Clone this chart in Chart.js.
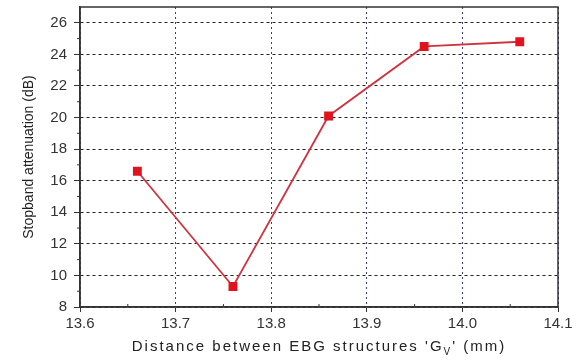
<!DOCTYPE html>
<html lang="en">
<head>
    <meta charset="UTF-8">
    <title>Stopband attenuation vs distance</title>
    <style>
        body { margin: 0; padding: 0; background-color: #fff; }
        .chart-container { width: 580px; height: 362px; }
    </style>
    <script src="https://cdn.jsdelivr.net/npm/chart.js"></script>
</head>
<body>

<div class="chart-container">
    <canvas id="myChart" width="580" height="362"></canvas>
</div>

<script>
    // Data
    const distances = [13.66, 13.76, 13.86, 13.96, 14.06];
    const attenuation = [16.6, 9.3, 20.1, 24.5, 24.8];
    const xTicks = [13.6, 13.7, 13.8, 13.9, 14.0, 14.1];
    const yTicks = [8, 10, 12, 14, 16, 18, 20, 22, 24, 26];
    const xMinorTicks = [13.65, 13.75, 13.85, 13.95, 14.05];
    const yMinorTicks = [9, 11, 13, 15, 17, 19, 21, 23, 25];

    const axisColor = '#333';
    const fontFamily = '"Liberation Sans", Arial, sans-serif';

    // Frame, minor ticks and the x title (with subscript)
    const extras = {
        id: 'extras',
        afterDraw(chart) {
            const c = chart.ctx;
            const a = chart.chartArea;
            const xs = chart.scales.x, ys = chart.scales.y;
            c.save();
            c.strokeStyle = axisColor;
            c.lineWidth = 1.5;
            c.strokeRect(a.left, a.top, a.right - a.left, a.bottom - a.top);

            c.lineWidth = 1;
            c.beginPath();
            yMinorTicks.forEach(v => {
                const y = ys.getPixelForValue(v);
                c.moveTo(a.left - 3, y);
                c.lineTo(a.left, y);
            });
            xMinorTicks.forEach(v => {
                const x = xs.getPixelForValue(v);
                c.moveTo(x, a.bottom);
                c.lineTo(x, a.bottom - 3);
            });
            c.stroke();

            // x axis title
            c.fillStyle = '#222';
            c.textBaseline = 'middle';
            c.letterSpacing = '2px';
            const big = '15px ' + fontFamily, small = '10px ' + fontFamily;
            const p1 = "Distance between EBG structures 'G", sub = 'V', p2 = "' (mm)";
            c.font = big;
            const w1 = c.measureText(p1).width, w3 = c.measureText(p2).width;
            c.font = small;
            const w2 = c.measureText(sub).width;
            const total = w1 + w2 + w3;
            let x = (a.left + a.right) / 2 - total / 2;
            const y = 347;
            c.textAlign = 'left';
            c.font = big;
            c.fillText(p1, x, y);
            x += w1;
            c.font = small;
            c.fillText(sub, x, y + 5);
            x += w2;
            c.font = big;
            c.fillText(p2, x, y);
            c.restore();
        }
    };

    const ctx = document.getElementById('myChart').getContext('2d');
    const myChart = new Chart(ctx, {
        type: 'line',
        data: {
            datasets: [{
                data: distances.map((d, i) => ({ x: d, y: attenuation[i] })),
                borderColor: '#cf3340',
                borderWidth: 1.8,
                pointStyle: 'rect',
                pointRadius: 5,
                pointBackgroundColor: '#e0141f',
                pointBorderColor: '#e0141f',
                tension: 0
            }]
        },
        options: {
            responsive: false,
            animation: false,
            layout: { padding: { top: 7, right: 22, left: 0, bottom: 0 } },
            plugins: { legend: { display: false }, tooltip: { enabled: false } },
            scales: {
                x: {
                    type: 'linear',
                    min: 13.6,
                    max: 14.1,
                    afterBuildTicks: s => { s.ticks = xTicks.map(v => ({ value: v })); },
                    afterFit: s => { s.height = 55; s.paddingLeft = 0; s.paddingRight = 0; },
                    ticks: {
                        color: axisColor,
                        font: { family: fontFamily, size: 15 },
                        padding: 3,
                        maxRotation: 0,
                        callback: v => v.toFixed(1)
                    },
                    grid: {
                        color: '#3b3b9c',
                        lineWidth: 1,
                        tickLength: 5,
                        tickColor: axisColor,
                        tickBorderDash: []
                    },
                    border: { display: true, color: axisColor, width: 1.5, dash: [2, 3] }
                },
                y: {
                    min: 8,
                    max: 27,
                    afterBuildTicks: s => { s.ticks = yTicks.map(v => ({ value: v })); },
                    afterFit: s => { s.width = 80; s.paddingTop = 0; s.paddingBottom = 0; },
                    ticks: {
                        color: axisColor,
                        font: { family: fontFamily, size: 15 },
                        padding: 7
                    },
                    grid: {
                        color: '#222',
                        lineWidth: 1,
                        tickLength: 6,
                        tickColor: axisColor,
                        tickBorderDash: []
                    },
                    border: { display: true, color: axisColor, width: 1.5, dash: [3, 3] },
                    title: {
                        display: true,
                        text: 'Stopband attenuation (dB)',
                        color: '#222',
                        font: { family: fontFamily, size: 14 },
                        padding: { top: 21, bottom: 0 }
                    }
                }
            }
        },
        plugins: [extras]
    });
</script>

</body>
</html>
